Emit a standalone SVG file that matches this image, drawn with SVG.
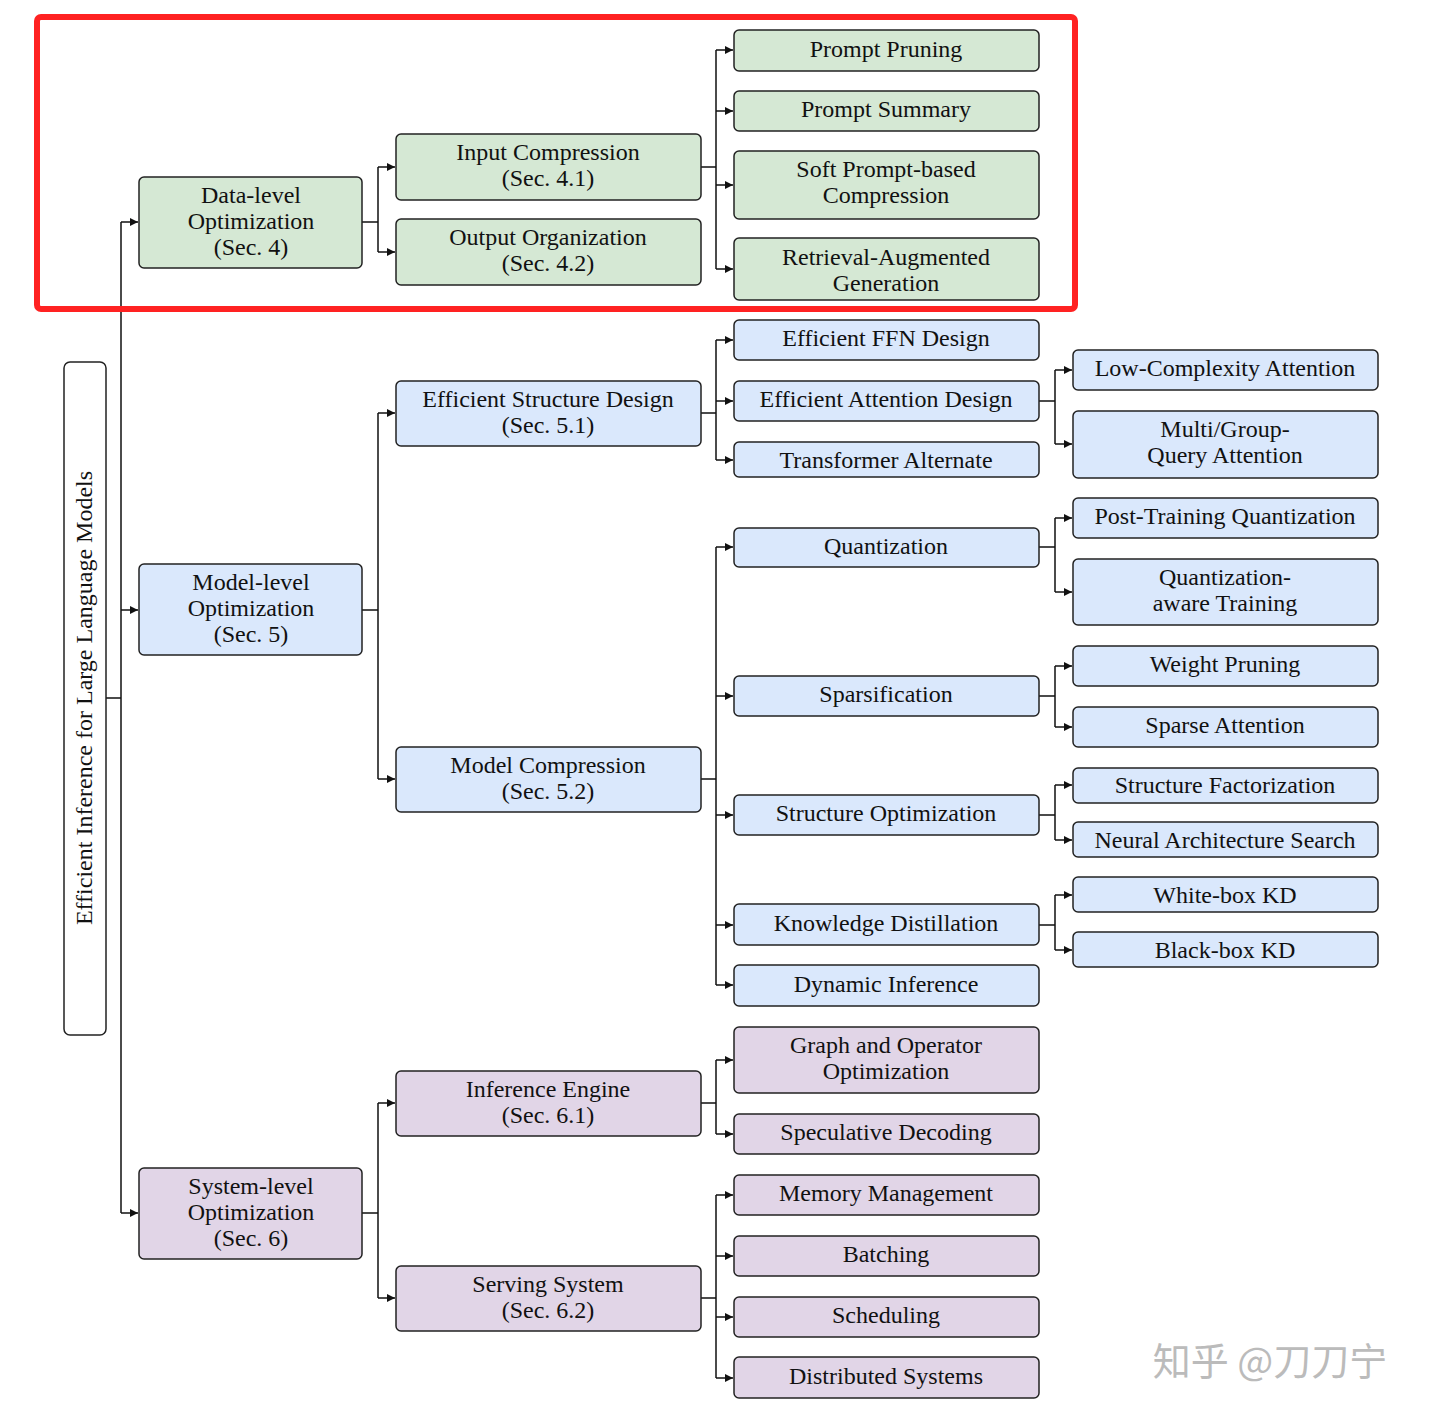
<svg xmlns="http://www.w3.org/2000/svg" width="1440" height="1417" viewBox="0 0 1440 1417">
<style>
.g{fill:#d5e8d4}.b{fill:#dae8fc}.p{fill:#e1d5e7}
rect{stroke:#222;stroke-width:1.5}
text{font-family:"Liberation Serif","DejaVu Serif",serif;font-size:24px;fill:#111;text-anchor:middle}
.c path{fill:none;stroke:#111;stroke-width:1.5;marker-end:url(#a)}
.c path.n{marker-end:none}
</style>
<defs><marker id="a" viewBox="0 0 10 10" refX="10" refY="5" markerWidth="8" markerHeight="8" markerUnits="userSpaceOnUse" orient="auto"><path d="M0,0L10,5L0,10z" fill="#111"/></marker></defs>
<rect x="0" y="0" width="1440" height="1417" style="fill:#fff;stroke:none"/>
<g class="c">
<path class="n" d="M106,698H121M121,222V1213"/>
<path d="M121,222H138"/><path d="M121,610H138"/><path d="M121,1213H138"/>
<path class="n" d="M362,222H378V252M378,167V222"/><path d="M378,167H395"/><path d="M378,252H395"/>
<path class="n" d="M362,610H378M378,413V779"/><path d="M378,413H395"/><path d="M378,779H395"/>
<path class="n" d="M362,1213H378M378,1103V1298"/><path d="M378,1103H395"/><path d="M378,1298H395"/>
<path class="n" d="M701,167H716M716,50V269"/><path d="M716,50H733"/><path d="M716,111H733"/><path d="M716,185H733"/><path d="M716,269H733"/>
<path class="n" d="M701,413H716M716,340V460"/><path d="M716,340H733"/><path d="M716,401H733"/><path d="M716,460H733"/>
<path class="n" d="M701,779H716M716,547V985"/><path d="M716,547H733"/><path d="M716,696H733"/><path d="M716,815H733"/><path d="M716,925H733"/><path d="M716,985H733"/>
<path class="n" d="M701,1103H716M716,1060V1134"/><path d="M716,1060H733"/><path d="M716,1134H733"/>
<path class="n" d="M701,1298H716M716,1195V1378"/><path d="M716,1195H733"/><path d="M716,1256H733"/><path d="M716,1317H733"/><path d="M716,1378H733"/>
<path class="n" d="M1039,401H1055M1055,370V444"/><path d="M1055,370H1072"/><path d="M1055,444H1072"/>
<path class="n" d="M1039,547H1055M1055,518V592"/><path d="M1055,518H1072"/><path d="M1055,592H1072"/>
<path class="n" d="M1039,696H1055M1055,666V727"/><path d="M1055,666H1072"/><path d="M1055,727H1072"/>
<path class="n" d="M1039,815H1055M1055,785V840"/><path d="M1055,785H1072"/><path d="M1055,840H1072"/>
<path class="n" d="M1039,925H1055M1055,895V950"/><path d="M1055,895H1072"/><path d="M1055,950H1072"/>
</g>
<g id="root"><rect x="64" y="362" width="42" height="673" rx="6" style="fill:#fff"/><text transform="translate(92,698) rotate(-90)">Efficient Inference for Large Language Models</text></g>
<g id="data"><rect class="g" x="139" y="177" width="223" height="91" rx="5"/><text x="251" y="203">Data-level</text><text x="251" y="229">Optimization</text><text x="251" y="255">(Sec. 4)</text></g>
<g id="model"><rect class="b" x="139" y="564" width="223" height="91" rx="5"/><text x="251" y="590">Model-level</text><text x="251" y="616">Optimization</text><text x="251" y="642">(Sec. 5)</text></g>
<g id="system"><rect class="p" x="139" y="1168" width="223" height="91" rx="5"/><text x="251" y="1194">System-level</text><text x="251" y="1220">Optimization</text><text x="251" y="1246">(Sec. 6)</text></g>
<g id="input"><rect class="g" x="396" y="134" width="305" height="66" rx="5"/><text x="548" y="160">Input Compression</text><text x="548" y="186">(Sec. 4.1)</text></g>
<g id="output"><rect class="g" x="396" y="219" width="305" height="66" rx="5"/><text x="548" y="245">Output Organization</text><text x="548" y="271">(Sec. 4.2)</text></g>
<g id="esd"><rect class="b" x="396" y="381" width="305" height="65" rx="5"/><text x="548" y="407">Efficient Structure Design</text><text x="548" y="433">(Sec. 5.1)</text></g>
<g id="mc"><rect class="b" x="396" y="747" width="305" height="65" rx="5"/><text x="548" y="773">Model Compression</text><text x="548" y="799">(Sec. 5.2)</text></g>
<g id="ie"><rect class="p" x="396" y="1071" width="305" height="65" rx="5"/><text x="548" y="1097">Inference Engine</text><text x="548" y="1123">(Sec. 6.1)</text></g>
<g id="ss"><rect class="p" x="396" y="1266" width="305" height="65" rx="5"/><text x="548" y="1292">Serving System</text><text x="548" y="1318">(Sec. 6.2)</text></g>
<g id="pp"><rect class="g" x="734" y="30" width="305" height="41" rx="5"/><text x="886" y="57">Prompt Pruning</text></g>
<g id="ps"><rect class="g" x="734" y="91" width="305" height="40" rx="5"/><text x="886" y="117">Prompt Summary</text></g>
<g id="spc"><rect class="g" x="734" y="151" width="305" height="68" rx="5"/><text x="886" y="177">Soft Prompt-based</text><text x="886" y="203">Compression</text></g>
<g id="rag"><rect class="g" x="734" y="238" width="305" height="62" rx="5"/><text x="886" y="265">Retrieval-Augmented</text><text x="886" y="291">Generation</text></g>
<g id="ffn"><rect class="b" x="734" y="320" width="305" height="40" rx="5"/><text x="886" y="346">Efficient FFN Design</text></g>
<g id="ead"><rect class="b" x="734" y="381" width="305" height="40" rx="5"/><text x="886" y="407">Efficient Attention Design</text></g>
<g id="ta"><rect class="b" x="734" y="442" width="305" height="35" rx="5"/><text x="886" y="468">Transformer Alternate</text></g>
<g id="quant"><rect class="b" x="734" y="528" width="305" height="39" rx="5"/><text x="886" y="554">Quantization</text></g>
<g id="spars"><rect class="b" x="734" y="676" width="305" height="40" rx="5"/><text x="886" y="702">Sparsification</text></g>
<g id="so"><rect class="b" x="734" y="795" width="305" height="40" rx="5"/><text x="886" y="821">Structure Optimization</text></g>
<g id="kd"><rect class="b" x="734" y="904" width="305" height="41" rx="5"/><text x="886" y="931">Knowledge Distillation</text></g>
<g id="di"><rect class="b" x="734" y="965" width="305" height="41" rx="5"/><text x="886" y="992">Dynamic Inference</text></g>
<g id="goo"><rect class="p" x="734" y="1027" width="305" height="66" rx="5"/><text x="886" y="1053">Graph and Operator</text><text x="886" y="1079">Optimization</text></g>
<g id="sd"><rect class="p" x="734" y="1114" width="305" height="40" rx="5"/><text x="886" y="1140">Speculative Decoding</text></g>
<g id="mm"><rect class="p" x="734" y="1175" width="305" height="40" rx="5"/><text x="886" y="1201">Memory Management</text></g>
<g id="bat"><rect class="p" x="734" y="1236" width="305" height="40" rx="5"/><text x="886" y="1262">Batching</text></g>
<g id="sch"><rect class="p" x="734" y="1297" width="305" height="40" rx="5"/><text x="886" y="1323">Scheduling</text></g>
<g id="dist"><rect class="p" x="734" y="1357" width="305" height="41" rx="5"/><text x="886" y="1384">Distributed Systems</text></g>
<g id="lca"><rect class="b" x="1073" y="350" width="305" height="40" rx="5"/><text x="1225" y="376">Low-Complexity Attention</text></g>
<g id="mq"><rect class="b" x="1073" y="411" width="305" height="67" rx="5"/><text x="1225" y="437">Multi/Group-</text><text x="1225" y="463">Query Attention</text></g>
<g id="ptq"><rect class="b" x="1073" y="498" width="305" height="40" rx="5"/><text x="1225" y="524">Post-Training Quantization</text></g>
<g id="qat"><rect class="b" x="1073" y="559" width="305" height="66" rx="5"/><text x="1225" y="585">Quantization-</text><text x="1225" y="611">aware Training</text></g>
<g id="wp"><rect class="b" x="1073" y="646" width="305" height="40" rx="5"/><text x="1225" y="672">Weight Pruning</text></g>
<g id="sa"><rect class="b" x="1073" y="707" width="305" height="40" rx="5"/><text x="1225" y="733">Sparse Attention</text></g>
<g id="sf"><rect class="b" x="1073" y="768" width="305" height="35" rx="5"/><text x="1225" y="793">Structure Factorization</text></g>
<g id="nas"><rect class="b" x="1073" y="822" width="305" height="35" rx="5"/><text x="1225" y="848">Neural Architecture Search</text></g>
<g id="wkd"><rect class="b" x="1073" y="877" width="305" height="35" rx="5"/><text x="1225" y="903">White-box KD</text></g>
<g id="bkd"><rect class="b" x="1073" y="932" width="305" height="35" rx="5"/><text x="1225" y="958">Black-box KD</text></g>
<rect x="37" y="17" width="1038" height="292" rx="4" style="fill:none;stroke:#f22;stroke-width:6"/>
<text x="1270" y="1375" style="font-family:'Noto Sans CJK SC',sans-serif;font-size:38px;fill:#bbb">知乎 @刀刀宁</text>
</svg>
